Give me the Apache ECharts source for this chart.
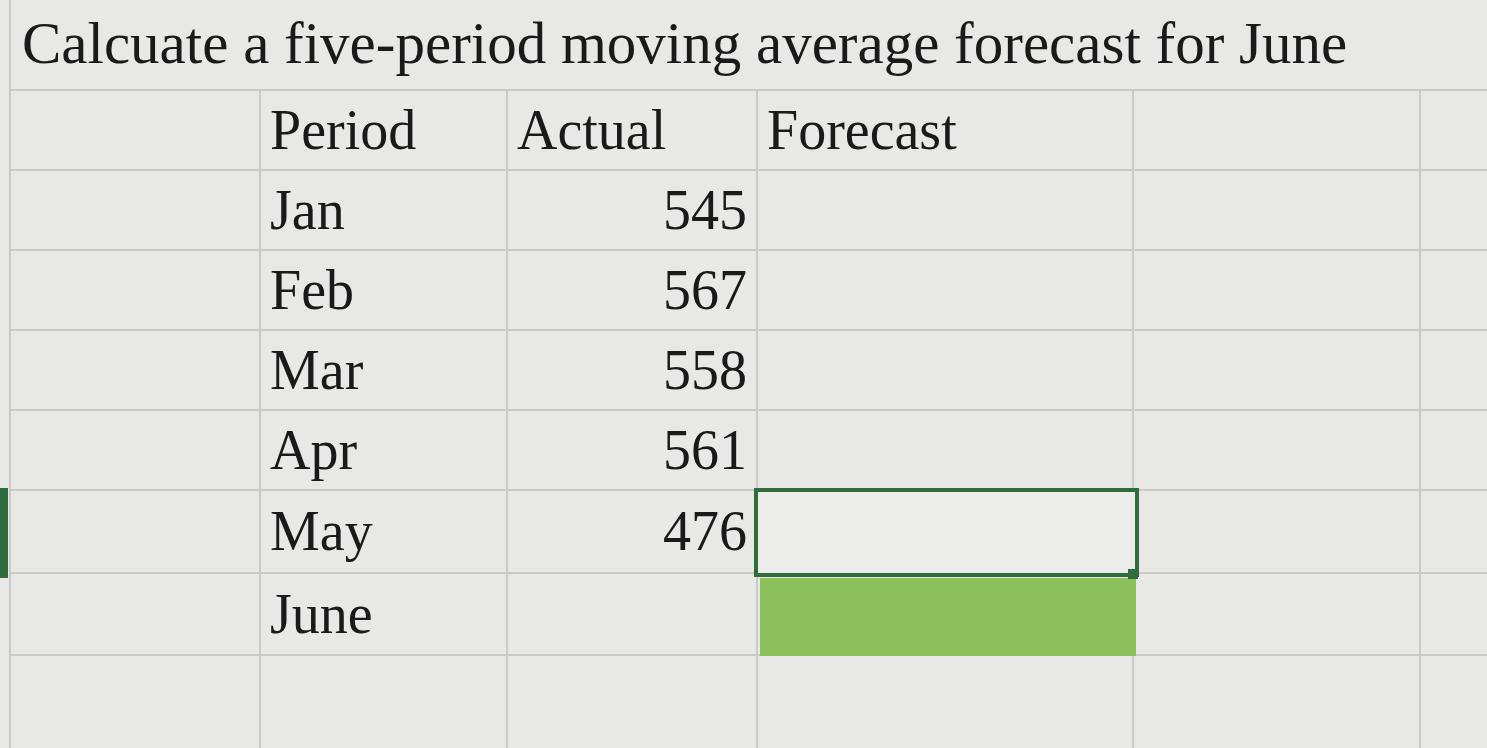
<!DOCTYPE html><html><head><meta charset="utf-8">
<script src="https://cdn.jsdelivr.net/npm/echarts@6/dist/echarts.min.js"></script>
<style>html,body{margin:0;padding:0;background:#e8e8e6}#c{width:1487px;height:748px}</style></head><body><div id="c"></div>
<script>
const title = "Calcuate a five-period moving average forecast for June";
const headers = ["Period", "Actual", "Forecast"];
const periods = ["Jan", "Feb", "Mar", "Apr", "May", "June"];
const actual = [545, 567, 558, 561, 476, null];
// layout (pixels)
const colEdges = [10, 260, 507, 757, 1133, 1420, 1487];
const rowEdges = [0, 90, 170, 250, 330, 410, 490, 573, 655, 748];

const cells = [];
headers.forEach((h, i) => cells.push({value: [i + 1, 1], text: h, align: 'left'}));
periods.forEach((p, r) => {
  cells.push({value: [1, r + 2], text: p, align: 'left'});
  if (actual[r] != null) cells.push({value: [2, r + 2], text: String(actual[r]), align: 'right'});
});
const font = '"Liberation Serif", "DejaVu Serif", serif';
const chart = echarts.init(document.getElementById('c'));
function renderItem(params, api) {
  const c = api.value(0), r = api.value(1);
  const d = cells[params.dataIndex];
  const x0 = colEdges[c], x1 = colEdges[c + 1], y0 = rowEdges[r], y1 = rowEdges[r + 1];
  return {type: 'text', style: {
    text: d.text, x: d.align === 'left' ? x0 + 10 : x1 - 10, y: (y0 + y1) / 2 + 4,
    align: d.align, verticalAlign: 'middle', font: '56px ' + font, fill: '#1a1a1a'}};
}
const lines = [];
colEdges.slice(1, -1).forEach(x => lines.push({type: 'line', shape: {x1: x, y1: 90, x2: x, y2: 748}, style: {stroke: '#c9c9c7', lineWidth: 2}}));
rowEdges.slice(1, -1).forEach(y => lines.push({type: 'line', shape: {x1: 10, y1: y, x2: 1487, y2: y}, style: {stroke: '#c9c9c7', lineWidth: 2}}));
lines.push({type: 'line', shape: {x1: 10, y1: 0, x2: 10, y2: 748}, style: {stroke: '#c9c9c7', lineWidth: 2}});
lines.push({type: 'rect', shape: {x: 760, y: 578, width: 376, height: 78}, style: {fill: '#8cc05b'}});
lines.push({type: 'rect', shape: {x: 756, y: 490, width: 381, height: 85}, style: {fill: '#ececea', stroke: '#2f6e3c', lineWidth: 4}});
lines.push({type: 'rect', shape: {x: 1128, y: 569, width: 10, height: 10}, style: {fill: '#2f6e3c'}});
lines.push({type: 'rect', shape: {x: 0, y: 488, width: 8, height: 90}, style: {fill: '#2f6e3c'}});
chart.setOption({
  backgroundColor: '#e8e8e6',
  animation: false,
  graphic: lines.concat([{type: 'text', left: 22, top: 18, style: {text: title, font: '59px ' + font, fill: '#1a1a1a'}, z: 10}]),
  xAxis: {show: false, min: 0, max: 1487},
  yAxis: {show: false, min: 0, max: 748},
  grid: {left: 0, right: 0, top: 0, bottom: 0},
  series: [{type: 'custom', renderItem, data: cells.map(c => c.value), z: 10}]
});
</script></body></html>
